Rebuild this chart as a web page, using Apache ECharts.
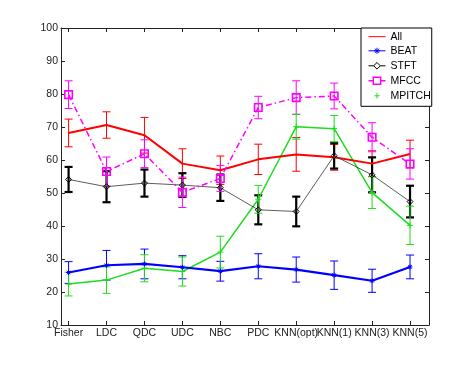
<!DOCTYPE html>
<html><head><meta charset="utf-8">
<script src="https://cdn.jsdelivr.net/npm/echarts@6/dist/echarts.min.js"></script>
<style>html,body{margin:0;padding:0;background:#fff}#c{width:474px;height:365px}</style>
</head><body><div id="c"></div>
<script>
const categories = ['Fisher','LDC','QDC','UDC','NBC','PDC','KNN(opt)','KNN(1)','KNN(3)','KNN(5)'];
const yTicks = [10,20,30,40,50,60,70,80,90,100];
const seriesNames = ['All','BEAT','STFT','MFCC','MPITCH'];
const allMean = [68.2,70.6,67.5,58.9,56.9,60.2,61.7,60.8,58.9,61.8];
const allErr = [4.2,4.0,5.4,4.5,4.3,4.6,5.1,3.9,3.9,4.2];
const beatMean = [25.9,28.1,28.5,27.5,26.3,27.8,26.8,25.1,23.4,27.6];
const beatErr = [3.3,4.5,4.5,3.5,3.0,3.8,3.8,4.3,3.5,3.6];
const stftMean = [54.1,51.9,53.0,52.4,51.6,44.9,44.4,61.3,55.5,47.4];
const stftErr = [3.8,4.7,4.1,3.6,4.0,4.4,4.5,3.9,5.3,4.8];
const mfccMean = [79.8,56.5,61.9,50.2,54.4,75.9,78.9,79.4,66.9,58.8];
const mfccErr = [4.2,4.4,4.2,4.6,3.9,3.4,5.1,3.9,4.4,4.6];
const mpitchMean = [22.4,23.6,27.2,26.2,32.1,48.1,70.1,69.5,50.1,40.2];
const mpitchErr = [3.6,4.0,4.1,4.4,4.8,4.2,3.8,4.0,4.8,5.8];

const FONT = '"Liberation Sans", Arial, sans-serif';
const positions = categories.map((c, i) => i + 1);
const lineData = m => m.map((v, i) => [i + 1, v]);
const errData = (m, e) => m.map((v, i) => [i + 1, v - e[i], v + e[i]]);

function errSeries(name, m, e, color, width) {
  return {
    type: 'custom', name: name + '_err', xAxisIndex: 0, yAxisIndex: 0,
    data: errData(m, e), silent: true, z: 2,
    renderItem: function (params, api) {
      const x = api.value(0);
      const lo = api.coord([x, api.value(1)]);
      const hi = api.coord([x, api.value(2)]);
      const hw = 4;
      const st = { stroke: color, lineWidth: width, fill: null };
      return { type: 'group', children: [
        { type: 'line', shape: { x1: lo[0], y1: lo[1], x2: hi[0], y2: hi[1] }, style: st },
        { type: 'line', shape: { x1: lo[0] - hw, y1: lo[1], x2: lo[0] + hw, y2: lo[1] }, style: st },
        { type: 'line', shape: { x1: hi[0] - hw, y1: hi[1], x2: hi[0] + hw, y2: hi[1] }, style: st }
      ]};
    }
  };
}

const starPath = 'path://M5,0L5,10M0,5L10,5M1.5,1.5L8.5,8.5M8.5,1.5L1.5,8.5';
const plusPath = 'path://M5,0L5,10M0,5L10,5';
const diamondPath = 'path://M5,0L10,5L5,10L0,5Z';
const squarePath = 'path://M0,0L10,0L10,10L0,10Z';

const legAll = 'path://M0,0M17,10M0,4.5L17,4.5L17,5.5L0,5.5Z';
const legBeat = 'path://M0,0M17,10M0,5L17,5M8.5,2L8.5,8M5.5,5L11.5,5M6.4,2.9L10.6,7.1M10.6,2.9L6.4,7.1';
const legStft = 'path://M0,0M17,10M0,5L5.2,5M11.8,5L17,5M8.5,1.7L11.8,5L8.5,8.3L5.2,5Z';
const legMfcc = 'path://M0,0M17,10M0,5L4.8,5M12.2,5L17,5M4.8,1.5L12.2,1.5L12.2,8.5L4.8,8.5Z';
const legPitch = 'path://M0,0M17,10M5.8,5L11.2,5M8.5,2.3L8.5,7.7';

const RED = '#ff0000', BLUE = '#0000ff', BLACK = '#000000', MAG = '#ff00ff', GREEN = '#1edc1e';

const chart = echarts.init(document.getElementById('c'), null, { renderer: 'canvas' });
const axisLineStyle = { color: '#222', width: 1 };
const legStyle = (c, w) => ({ color: 'none', borderColor: c, borderWidth: w });
chart.setOption({
  animation: false,
  backgroundColor: '#fff',
  grid: { left: 61, right: 45, top: 28, bottom: 40, containLabel: false },
  xAxis: [
    { type: 'value', min: 0.8, max: 10.5, position: 'bottom',
      axisLine: { show: true, lineStyle: axisLineStyle, onZero: false },
      axisTick: { show: true, inside: true, length: 4, lineStyle: axisLineStyle, customValues: positions },
      axisLabel: { show: true, customValues: positions, margin: 3, color: '#222', fontFamily: FONT, fontSize: 10.5,
        formatter: v => categories[Math.round(v) - 1] || '' },
      splitLine: { show: false } },
    { type: 'value', min: 0.8, max: 10.5, position: 'top',
      axisLine: { show: true, lineStyle: axisLineStyle, onZero: false },
      axisTick: { show: true, inside: true, length: 4, lineStyle: axisLineStyle, customValues: positions },
      axisLabel: { show: false }, splitLine: { show: false } }
  ],
  yAxis: [
    { type: 'value', min: 10, max: 100, interval: 10, position: 'left',
      axisLine: { show: true, lineStyle: axisLineStyle, onZero: false },
      axisTick: { show: true, inside: true, length: 4, lineStyle: axisLineStyle },
      axisLabel: { show: true, margin: 3, color: '#222', fontFamily: FONT, fontSize: 10.5,
        formatter: v => (yTicks.indexOf(v) >= 0 ? String(v) : '') },
      splitLine: { show: false } },
    { type: 'value', min: 10, max: 100, interval: 10, position: 'right',
      axisLine: { show: true, lineStyle: axisLineStyle, onZero: false },
      axisTick: { show: true, inside: true, length: 4, lineStyle: axisLineStyle },
      axisLabel: { show: false }, splitLine: { show: false } }
  ],
  legend: {
    orient: 'vertical', left: 361, top: 28,
    padding: [2, 1, 3, 5],
    backgroundColor: '#fff', borderColor: '#000', borderWidth: 1, borderRadius: 0,
    itemWidth: 17, itemHeight: 10, itemGap: 0, align: 'left',
    textStyle: { fontFamily: FONT, fontSize: 10.5, color: '#000', lineHeight: 13.3 },
    data: [
      { name: 'All', icon: legAll, itemStyle: { color: RED, borderWidth: 0 } },
      { name: 'BEAT', icon: legBeat, itemStyle: legStyle(BLUE, 1) },
      { name: 'STFT', icon: legStft, itemStyle: legStyle(BLACK, 1) },
      { name: 'MFCC', icon: legMfcc, itemStyle: legStyle(MAG, 1.4) },
      { name: 'MPITCH', icon: legPitch, itemStyle: legStyle(GREEN, 1) }
    ]
  },
  series: [
    errSeries('All', allMean, allErr, RED, 1),
    errSeries('BEAT', beatMean, beatErr, BLUE, 1),
    errSeries('STFT', stftMean, stftErr, BLACK, 2.2),
    errSeries('MFCC', mfccMean, mfccErr, MAG, 1),
    errSeries('MPITCH', mpitchMean, mpitchErr, GREEN, 1),
    { type: 'line', name: 'MPITCH', data: lineData(mpitchMean), color: GREEN, z: 3,
      symbol: plusPath, symbolSize: 6, lineStyle: { width: 1.5, color: GREEN },
      itemStyle: { color: 'none', borderColor: GREEN, borderWidth: 1 } },
    { type: 'line', name: 'All', data: lineData(allMean), color: RED, z: 3,
      symbol: 'none', lineStyle: { width: 2, color: RED } },
    { type: 'line', name: 'BEAT', data: lineData(beatMean), color: BLUE, z: 4,
      symbol: starPath, symbolSize: 5, lineStyle: { width: 2.2, color: BLUE },
      itemStyle: { color: 'none', borderColor: BLUE, borderWidth: 1 } },
    { type: 'line', name: 'STFT', data: lineData(stftMean), color: BLACK, z: 4,
      symbol: diamondPath, symbolSize: 6, lineStyle: { width: 0.8, color: '#333' },
      itemStyle: { color: 'none', borderColor: BLACK, borderWidth: 1 } },
    { type: 'line', name: 'MFCC', data: lineData(mfccMean), color: MAG, z: 4,
      symbol: squarePath, symbolSize: 7.5, lineStyle: { width: 1.5, color: MAG, type: [6, 3, 1.5, 3] },
      itemStyle: { color: 'none', borderColor: MAG, borderWidth: 1.6 } }
  ]
});
</script></body></html>
